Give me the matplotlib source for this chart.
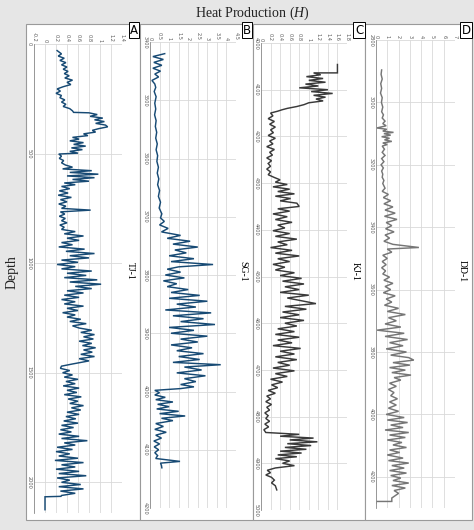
import matplotlib

matplotlib.use("Agg")
import matplotlib.pyplot as plt
from matplotlib.axes import Axes
from matplotlib.figure import Figure
from matplotlib.patches import Rectangle
from matplotlib.ticker import FuncFormatter, MultipleLocator

# --- data (depth in m, heat production) ---
tj1_depth = [
    30, 45, 55, 65, 75, 85, 95, 105, 115, 125, 135, 145, 155, 165, 175, 185, 195, 205, 215, 225,
    235, 245, 255, 265, 275, 285, 295, 305, 312, 314, 322, 330, 338, 346, 354, 362, 370, 378, 386, 394,
    402, 410, 418, 426, 434, 442, 450, 458, 466, 474, 482, 490, 498, 502, 512, 522, 532, 542, 552, 562,
    570, 578, 586, 594, 602, 610, 618, 626, 634, 642, 650, 660, 670, 680, 690, 700, 710, 720, 730, 740,
    750, 758, 766, 776, 786, 796, 806, 816, 826, 836, 846, 856, 866, 876, 886, 896, 906, 916, 926, 936,
    946, 956, 966, 976, 986, 996, 1006, 1016, 1026, 1036, 1046, 1056, 1066, 1076, 1086, 1096, 1106, 1116, 1126, 1136,
    1146, 1156, 1166, 1176, 1186, 1196, 1206, 1216, 1226, 1236, 1246, 1256, 1266, 1276, 1286, 1296, 1306, 1316, 1326, 1336,
    1346, 1356, 1366, 1376, 1386, 1396, 1406, 1416, 1426, 1436, 1446, 1455, 1460, 1470, 1480, 1490, 1500, 1510, 1520, 1530,
    1540, 1550, 1560, 1570, 1580, 1590, 1600, 1610, 1620, 1630, 1640, 1650, 1660, 1670, 1680, 1690, 1700, 1710, 1720, 1730,
    1740, 1750, 1760, 1770, 1780, 1790, 1800, 1810, 1820, 1830, 1840, 1850, 1860, 1870, 1880, 1890, 1900, 1910, 1920, 1930,
    1940, 1950, 1960, 1970, 1980, 1990, 2000, 2010, 2020, 2030, 2040, 2050, 2060, 2064, 2066, 2125,
]
tj1_hp = [
    0.22, 0.30, 0.24, 0.35, 0.27, 0.38, 0.30, 0.40, 0.33, 0.42, 0.35, 0.44, 0.36, 0.50, 0.40, 0.47, 0.33, 0.22, 0.28, 0.20,
    0.30, 0.27, 0.36, 0.30, 0.38, 0.33, 0.45, 0.50, 0.52, 0.80, 0.95, 0.82, 1.05, 0.90, 1.08, 0.92, 1.10, 1.14, 0.98, 0.86,
    0.92, 0.70, 0.78, 0.50, 0.62, 0.45, 0.70, 0.52, 0.74, 0.48, 0.68, 0.45, 0.60, 0.25, 0.30, 0.26, 0.34, 0.30, 0.37, 0.50,
    0.32, 0.85, 0.45, 0.97, 0.40, 0.90, 0.50, 0.80, 0.35, 0.55, 0.30, 0.45, 0.26, 0.42, 0.24, 0.48, 0.28, 0.40, 0.25, 0.38,
    0.30, 0.83, 0.28, 0.36, 0.26, 0.37, 0.30, 0.40, 0.27, 0.35, 0.30, 0.55, 0.35, 0.70, 0.40, 0.62, 0.30, 0.50, 0.25, 0.72,
    0.38, 0.90, 0.45, 0.80, 0.30, 0.60, 0.22, 0.55, 0.30, 0.85, 0.40, 0.75, 0.35, 0.95, 0.45, 1.02, 0.55, 0.85, 0.40, 0.70,
    0.35, 0.62, 0.30, 0.55, 0.35, 0.70, 0.40, 0.60, 0.32, 0.55, 0.40, 0.65, 0.45, 0.75, 0.50, 0.62, 0.85, 0.65, 0.90, 0.70,
    0.88, 0.62, 0.85, 0.68, 0.92, 0.70, 0.86, 0.65, 0.90, 0.62, 0.80, 0.60, 0.50, 0.30, 0.28, 0.45, 0.32, 0.50, 0.35, 0.60,
    0.38, 0.55, 0.33, 0.62, 0.40, 0.58, 0.35, 0.66, 0.42, 0.60, 0.45, 0.70, 0.48, 0.65, 0.40, 0.62, 0.38, 0.56, 0.34, 0.60,
    0.30, 0.52, 0.28, 0.48, 0.25, 0.62, 0.30, 0.77, 0.35, 0.55, 0.22, 0.50, 0.20, 0.45, 0.25, 0.60, 0.18, 0.70, 0.30, 0.55,
    0.20, 0.62, 0.25, 0.75, 0.22, 0.45, 0.30, 0.65, 0.25, 0.70, 0.28, 0.55, 0.30, 0.29, 0.0, 0.0,
]

sg1_depth = [
    3420, 3425, 3430, 3435, 3440, 3445, 3450, 3455, 3460, 3466, 3472, 3478, 3485, 3494, 3505, 3515, 3525, 3535, 3545, 3555,
    3565, 3575, 3585, 3595, 3605, 3615, 3625, 3635, 3645, 3655, 3665, 3675, 3685, 3695, 3702, 3708, 3714, 3720, 3726, 3732,
    3737, 3742, 3747, 3752, 3757, 3762, 3767, 3772, 3777, 3782, 3786, 3790, 3795, 3800, 3805, 3810, 3815, 3820, 3825, 3830,
    3835, 3840, 3845, 3850, 3855, 3860, 3865, 3870, 3875, 3880, 3885, 3890, 3895, 3900, 3905, 3910, 3915, 3920, 3925, 3930,
    3935, 3940, 3945, 3950, 3954, 3958, 3963, 3968, 3973, 3978, 3983, 3988, 3992, 3995, 3998, 4002, 4006, 4010, 4014, 4018,
    4022, 4026, 4030, 4034, 4038, 4042, 4046, 4050, 4055, 4060, 4065, 4070, 4075, 4080, 4085, 4090, 4095, 4100, 4105, 4110,
    4115, 4120, 4123, 4127, 4131,
]
sg1_hp = [
    0.77, 0.15, 0.70, 0.20, 0.62, 0.15, 0.55, 0.25, 0.45, 0.10, 0.25, 0.30, 0.22, 0.32, 0.25, 0.30, 0.24, 0.32, 0.28, 0.35,
    0.30, 0.38, 0.32, 0.40, 0.36, 0.44, 0.38, 0.46, 0.40, 0.50, 0.44, 0.55, 0.48, 0.62, 0.55, 0.75, 0.50, 0.95, 0.60, 1.60,
    0.90, 2.10, 1.20, 2.50, 1.30, 1.90, 1.00, 2.30, 1.10, 3.30, 1.50, 0.90, 1.60, 0.80, 1.80, 0.70, 1.40, 0.90, 2.00, 1.10,
    2.60, 1.00, 3.00, 1.40, 2.40, 0.80, 3.20, 1.20, 2.80, 1.60, 3.40, 1.00, 2.30, 1.10, 3.00, 1.60, 2.50, 1.10, 2.20, 1.40,
    2.80, 1.50, 2.60, 1.20, 3.70, 1.80, 2.70, 1.40, 2.90, 1.80, 2.40, 1.60, 2.30, 1.60, 0.25, 0.50, 0.25, 0.80, 0.30, 1.20,
    0.40, 1.00, 0.35, 1.50, 0.50, 1.84, 0.60, 1.20, 0.30, 0.70, 0.25, 0.85, 0.30, 0.60, 0.20, 0.50, 0.22, 0.45, 0.25, 0.40,
    0.30, 1.57, 0.55, 0.60, 0.62,
]

kj1_depth = [
    4046, 4064, 4064, 4068, 4072, 4076, 4080, 4084, 4088, 4092, 4096, 4100, 4104, 4108, 4112, 4116, 4120, 4124, 4128, 4132,
    4136, 4140, 4143, 4146, 4150, 4156, 4162, 4168, 4174, 4180, 4186, 4192, 4198, 4204, 4210, 4216, 4222, 4228, 4234, 4240,
    4246, 4252, 4258, 4264, 4270, 4276, 4282, 4288, 4293, 4298, 4303, 4308, 4313, 4318, 4323, 4328, 4333, 4338, 4343, 4350,
    4355, 4360, 4366, 4372, 4378, 4384, 4390, 4396, 4402, 4408, 4414, 4420, 4426, 4432, 4438, 4444, 4450, 4456, 4462, 4468,
    4474, 4480, 4486, 4492, 4498, 4504, 4510, 4516, 4522, 4528, 4534, 4540, 4546, 4552, 4558, 4564, 4570, 4576, 4582, 4588,
    4594, 4600, 4606, 4612, 4618, 4624, 4630, 4636, 4642, 4648, 4654, 4660, 4666, 4672, 4678, 4684, 4690, 4696, 4702, 4708,
    4714, 4720, 4726, 4732, 4738, 4744, 4750, 4756, 4762, 4768, 4774, 4780, 4786, 4792, 4798, 4804, 4810, 4816, 4822, 4828,
    4834, 4838, 4842, 4846, 4850, 4854, 4858, 4862, 4866, 4870, 4874, 4878, 4882, 4886, 4890, 4895, 4900, 4905, 4910, 4915,
    4920, 4925, 4930, 4936, 4942, 4948, 4957,
]
kj1_hp = [
    1.60, 1.60, 1.10, 1.25, 0.95, 1.30, 1.00, 1.35, 0.93, 1.20, 0.80, 1.40, 1.05, 1.50, 1.10, 1.35, 1.15, 1.30, 1.00, 0.90,
    0.75, 0.55, 0.44, 0.35, 0.20, 0.25, 0.15, 0.28, 0.18, 0.30, 0.20, 0.26, 0.15, 0.30, 0.18, 0.25, 0.12, 0.28, 0.18, 0.24,
    0.12, 0.22, 0.15, 0.20, 0.12, 0.20, 0.15, 0.28, 0.40, 0.30, 0.55, 0.25, 0.60, 0.35, 0.70, 0.30, 0.62, 0.40, 0.75, 0.80,
    0.35, 0.60, 0.25, 0.55, 0.30, 0.65, 0.35, 0.50, 0.25, 0.60, 0.30, 0.75, 0.35, 0.55, 0.20, 0.65, 0.30, 0.80, 0.35, 0.60,
    0.25, 0.50, 0.30, 0.70, 0.40, 0.85, 0.45, 0.90, 0.50, 0.80, 0.40, 1.00, 0.55, 0.85, 1.15, 0.50, 0.95, 0.45, 0.80, 0.40,
    0.90, 0.50, 0.75, 0.35, 0.70, 0.30, 0.80, 0.35, 0.65, 0.25, 0.83, 0.40, 0.70, 0.30, 0.75, 0.35, 0.60, 0.25, 0.70, 0.30,
    0.55, 0.20, 0.45, 0.22, 0.35, 0.15, 0.30, 0.12, 0.20, 0.10, 0.22, 0.12, 0.18, 0.08, 0.15, 0.10, 0.18, 0.08, 0.16, 0.06,
    0.10, 0.80, 0.40, 1.10, 0.60, 1.18, 0.55, 1.05, 0.50, 0.95, 0.40, 0.85, 0.35, 0.75, 0.30, 0.60, 0.45, 0.70, 0.30, 0.13,
    0.20, 0.10, 0.22, 0.28, 0.22, 0.30, 0.33,
]

dd1_depth = [
    2896, 2910, 2925, 2940, 2955, 2970, 2985, 3000, 3015, 3030, 3040, 3050, 3060, 3068, 3075, 3082, 3086, 3092, 3096, 3100,
    3105, 3110, 3115, 3120, 3125, 3130, 3135, 3140, 3150, 3160, 3170, 3180, 3190, 3200, 3210, 3220, 3230, 3240, 3250, 3260,
    3275, 3285, 3295, 3305, 3315, 3325, 3335, 3345, 3355, 3365, 3375, 3385, 3395, 3405, 3415, 3425, 3435, 3445, 3455, 3465,
    3470, 3480, 3490, 3500, 3510, 3520, 3530, 3540, 3550, 3560, 3570, 3580, 3590, 3600, 3610, 3620, 3630, 3640, 3650, 3660,
    3670, 3680, 3690, 3700, 3710, 3720, 3730, 3740, 3750, 3760, 3770, 3780, 3790, 3800, 3810, 3818, 3826, 3834, 3842, 3850,
    3858, 3866, 3874, 3882, 3890, 3900, 3910, 3920, 3930, 3940, 3950, 3960, 3970, 3980, 3990, 4000, 4010, 4018, 4026, 4034,
    4042, 4050, 4058, 4066, 4074, 4082, 4090, 4098, 4106, 4114, 4122, 4130, 4140, 4148, 4156, 4164, 4172, 4180, 4188, 4196,
    4204, 4212, 4220, 4228, 4236, 4244, 4253, 4268, 4279, 4279, 4285,
]
dd1_hp = [
    0.50, 0.45, 0.55, 0.42, 0.50, 0.40, 0.55, 0.48, 0.60, 0.50, 0.66, 0.55, 0.80, 0.60, 0.90, 0.06, 0.95, 0.60, 1.55, 0.70,
    1.30, 0.50, 1.20, 0.75, 1.40, 0.60, 1.00, 0.55, 0.75, 0.55, 0.80, 0.50, 0.70, 0.45, 0.65, 0.50, 0.60, 0.55, 0.70, 0.60,
    0.80, 0.55, 1.10, 0.65, 1.30, 0.70, 1.50, 0.80, 1.70, 0.75, 1.86, 0.90, 1.40, 0.85, 1.60, 0.80, 1.20, 0.70, 1.50, 3.80,
    1.00, 1.40, 0.60, 1.00, 0.55, 0.90, 0.50, 0.85, 0.60, 1.20, 0.70, 1.50, 0.80, 1.30, 0.65, 1.70, 0.90, 1.40, 0.75, 2.00,
    1.00, 2.60, 1.10, 1.80, 0.80, 2.20, 0.10, 2.50, 0.80, 2.80, 1.20, 2.40, 0.90, 2.70, 1.30, 2.90, 3.35, 1.50, 3.00, 1.20,
    2.60, 1.40, 3.10, 1.60, 2.20, 1.20, 1.80, 1.10, 1.60, 1.30, 1.90, 1.20, 1.80, 1.10, 2.00, 0.90, 2.50, 1.00, 2.80, 1.30,
    2.40, 0.80, 2.90, 1.20, 2.60, 1.00, 2.30, 1.50, 2.70, 1.20, 2.10, 1.00, 2.40, 1.10, 2.90, 1.40, 2.50, 1.20, 2.70, 1.30,
    2.20, 1.50, 2.90, 1.40, 2.60, 1.60, 2.00, 1.40, 1.40, 0.0, 0.0,
]

well_names = ["TJ-1", "SG-1", "KJ-1", "DD-1"]
panel_letters = ["A", "B", "C", "D"]

W, H = 474, 530


def _fig_rect(left: float, top: float, right: float, bottom: float) -> list[float]:
    """Pixel box (origin top-left) -> figure fraction rect."""
    return [left / W, 1 - bottom / H, (right - left) / W, (bottom - top) / H]


def _style_track(ax: Axes, xlim, ylim, x_step, y_step, color, depth, hp) -> None:
    ax.plot(hp, depth, color=color, lw=1.05, solid_joinstyle="miter")
    ax.set_xlim(*xlim)
    ax.set_ylim(*ylim)
    ax.xaxis.set_major_locator(MultipleLocator(x_step))
    ax.yaxis.set_major_locator(MultipleLocator(y_step))
    ax.xaxis.set_major_formatter(FuncFormatter(lambda v, _: f"{round(v, 2):g}"))
    ax.yaxis.set_major_formatter(FuncFormatter(lambda v, _: f"{v:.0f}"))
    ax.xaxis.tick_top()
    ax.tick_params(axis="both", length=0, labelsize=3.6, labelcolor="#595959", pad=1.5)
    ax.tick_params(axis="x", labelrotation=-90)
    ax.tick_params(axis="y", labelrotation=-90)
    for lab in ax.get_yticklabels():
        lab.set_verticalalignment("center")
    ax.grid(True, color="#d9d9d9", lw=0.6)
    ax.set_axisbelow(True)
    for side in ("top", "right", "bottom"):
        ax.spines[side].set_visible(False)
    ax.spines["left"].set_color("#8c8c8c")
    ax.spines["left"].set_linewidth(0.6)
    ax.patch.set_alpha(0)


def build_figure() -> Figure:
    fig = plt.figure(figsize=(W / 100, H / 100), dpi=100, facecolor="#e6e6e6")

    panels = [(26, 140), (140, 253), (253, 365), (365, 472)]
    for (x0, x1), letter, name in zip(panels, panel_letters, well_names):
        l, b, w, h = _fig_rect(x0, 24, x1, 520)
        fig.add_artist(Rectangle((l, b), w, h, transform=fig.transFigure, zorder=-5,
                                 facecolor="white", edgecolor="#9a9a9a", lw=0.8))
        fig.text((x1 - 6) / W, 1 - 30 / H, letter, ha="center", va="center", fontsize=8.5,
                 family="DejaVu Sans",
                 bbox=dict(boxstyle="square,pad=0.12", facecolor="white", edgecolor="black", lw=0.7))
        fig.text((x1 - 10) / W, 1 - 271 / H, name, ha="center", va="center", fontsize=7,
                 rotation=-90, family="Liberation Serif")

    tracks = [
        ((34, 44, 122, 513), (-0.2, 1.4), (2140, 0), 0.2, 500, "#174a74", tj1_depth, tj1_hp),
        ((150, 42, 236, 508), (0, 4.5), (4200, 3400), 0.5, 100, "#174a74", sg1_depth, sg1_hp),
        ((261, 43, 347, 510), (0, 1.8), (5000, 4000), 0.2, 100, "#3a3a3a", kj1_depth, kj1_hp),
        ((376, 40, 455, 508), (0, 7), (4300, 2800), 1, 200, "#767676", dd1_depth, dd1_hp),
    ]
    for box, xlim, ylim, xs, ys, color, depth, hp in tracks:
        ax = fig.add_axes(_fig_rect(*box))
        _style_track(ax, xlim, ylim, xs, ys, color, depth, hp)

    fig.text(252 / W, 1 - 13 / H, r"Heat Production ($\mathit{H}$)", ha="center", va="center",
             fontsize=10, family="Liberation Serif", color="#222222")
    fig.text(12 / W, 1 - 272 / H, "Depth", ha="center", va="center", rotation=90,
             fontsize=10, family="Liberation Serif", color="#222222")
    return fig


def main() -> None:
    plt.rcParams["mathtext.fontset"] = "custom"
    plt.rcParams["mathtext.it"] = "Liberation Serif:italic"
    fig = build_figure()
    fig.savefig("out.png", dpi=100, facecolor=fig.get_facecolor())


if __name__ == "__main__":
    main()
